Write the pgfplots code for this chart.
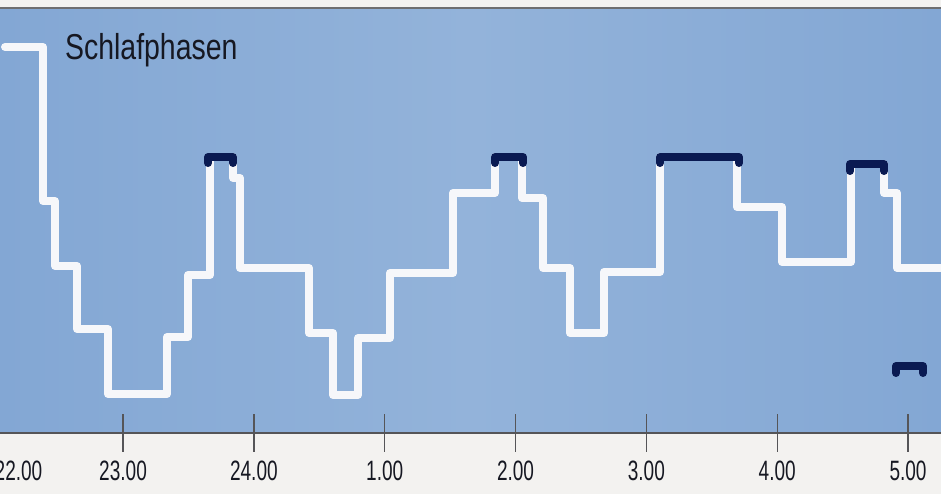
\documentclass[border=0pt]{standalone}
\usepackage{fontspec}
\setmainfont{Liberation Sans}
\newfontfamily\labelfont[FakeStretch=0.79]{Liberation Sans}
\newfontfamily\tickfont[FakeStretch=0.68]{Liberation Sans}
\usepackage{pgfplots}
\pgfplotsset{compat=1.18}
\usetikzlibrary{backgrounds}
\definecolor{bgA}{RGB}{131,167,212}
\definecolor{bgB}{RGB}{147,179,218}
\definecolor{strip}{RGB}{243,242,240}
\definecolor{lineW}{RGB}{246,247,250}
\definecolor{rem}{RGB}{10,26,82}
\definecolor{axgray}{RGB}{85,85,88}
\definecolor{topgray}{RGB}{110,110,112}
\definecolor{txt}{RGB}{22,24,34}
\begin{document}
\begin{tikzpicture}[show background rectangle, inner frame sep=0pt,
  background rectangle/.style={fill=strip, draw=none}]
\useasboundingbox (0,-61pt) rectangle (941pt,433pt);
\begin{axis}[at={(0,0)}, anchor=south west, scale only axis,
  width=941pt, height=425pt,
  xmin=0.0596, xmax=7.252, ymin=0, ymax=425,
  axis y line=none, axis x line*=bottom,
  x axis line style={draw=axgray, line width=1.5pt},
  axis background/.style={shade, left color=bgA, right color=bgA, middle color=bgB},
  xtick={1,2,3,4,5,6,7},
  xticklabels={23.00,24.00,1.00,2.00,3.00,4.00,5.00},
  extra x ticks={0.201}, extra x tick labels={22.00},
  extra x tick style={xtick style={draw=none}},
  tick align=center, major tick length=38pt,
  xtick style={draw=axgray, line width=1.3pt},
  xticklabel style={anchor=base, yshift=-29pt, text=txt,
    font=\tickfont\fontsize{28}{30}\selectfont},
  clip mode=individual,
]
\addplot[lineW, line width=8pt, line cap=round, line join=round] coordinates {
(0.098,386) (0.388,386) (0.388,232) (0.480,232) (0.480,167) (0.648,167)
(0.648,104) (0.885,104) (0.885,39) (1.336,39) (1.336,96) (1.497,96)
(1.497,158) (1.665,158) (1.665,276) (1.841,276) (1.841,255) (1.894,255)
(1.894,165) (2.421,165) (2.421,100) (2.605,100) (2.605,38) (2.796,38)
(2.796,95) (3.041,95) (3.041,160) (3.522,160) (3.522,240) (3.843,240)
(3.843,276) (4.050,276) (4.050,235) (4.210,235) (4.210,165) (4.416,165)
(4.416,100) (4.676,100) (4.676,161) (5.104,161) (5.104,276) (5.693,276)
(5.693,226) (6.037,226) (6.037,171) (6.564,171) (6.564,269) (6.816,269)
(6.816,240) (6.916,240) (6.916,165) (7.283,165)
};
\addplot[rem, line width=8pt, line cap=round, line join=round] coordinates {
(1.649,270) (1.649,276) (1.841,276) (1.841,270)};
\addplot[rem, line width=8pt, line cap=round, line join=round] coordinates {
(3.843,270) (3.843,276) (4.057,276) (4.057,270)};
\addplot[rem, line width=8pt, line cap=round, line join=round] coordinates {
(5.104,270) (5.104,276) (5.708,276) (5.708,270)};
\addplot[rem, line width=8pt, line cap=round, line join=round] coordinates {
(6.557,262) (6.557,269) (6.816,269) (6.816,262)};
\addplot[rem, line width=8pt, line cap=round, line join=round] coordinates {
(6.908,60) (6.908,67) (7.115,67) (7.115,60)};
\node[anchor=base west, inner sep=0pt, text=txt,
  font=\labelfont\fontsize{36}{40}\selectfont] at (axis cs:0.556,373) {Schlafphasen};
\end{axis}
\draw[topgray, line width=2pt] (0,425pt) -- (941pt,425pt);
\end{tikzpicture}
\end{document}
